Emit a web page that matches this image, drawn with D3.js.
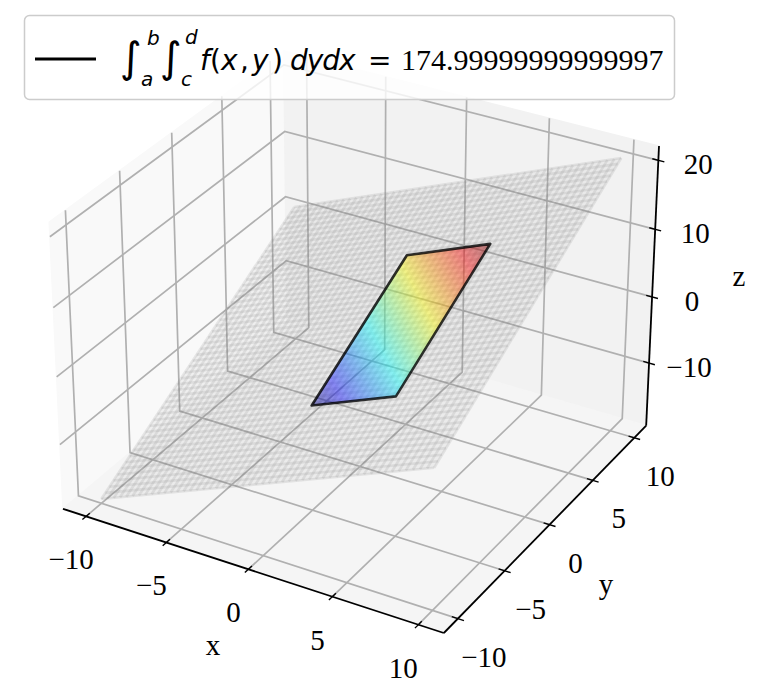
<!DOCTYPE html>
<html>
<head>
<meta charset="utf-8">
<script src="https://cdn.jsdelivr.net/npm/d3@7"></script>
<style>
  html, body { margin: 0; padding: 0; background: #fff; }
  text { font-family: "Liberation Serif", serif; font-size: 29px; fill: #000; }
  .math { font-family: "DejaVu Sans", sans-serif; }
</style>
</head>
<body>
<svg id="chart" width="768" height="697"></svg>
<script>
const xTicks = [-10, -5, 0, 5, 10];
const yTicks = [-10, -5, 0, 5, 10];
const zTicks = [-10, 0, 10, 20];
const xLim = [-11.46, 11.46];
const yLim = [-11.46, 11.46];
const zLim = [-19.65, 22.05];
const surfaceX = [-10, 10];
const surfaceY = [-10, 10];
// z at (x0,y0) (x1,y0) (x0,y1) (x1,y1)
const surfaceZ = [-19, 1, 1, 21];
const regionX = [0, 5];
const regionY = [-5, 5];
const meshCells = 50;
const jetColors = ["#00007f", "#0000ff", "#007fff", "#00ffff", "#7fff7f", "#ffff00", "#ff7f00", "#ff0000", "#7f0000"];
const integralValue = "174.99999999999997";

var svg = d3.select("#chart");

// camera, same numbers as a default mplot3d view
var elev = 30 * Math.PI / 180, azim = -60 * Math.PI / 180, dist = 10;
var aspect = [4, 4, 3];
var norm = Math.hypot(aspect[0], aspect[1], aspect[2]);
var box = aspect.map(a => a * 1.8294640721620434 * 25 / 24 / norm);
var wx = d3.scaleLinear().domain(xLim).range([0, box[0]]);
var wy = d3.scaleLinear().domain(yLim).range([0, box[1]]);
var wz = d3.scaleLinear().domain(zLim).range([0, box[2]]);
var w = [Math.cos(elev) * Math.cos(azim), Math.cos(elev) * Math.sin(azim), Math.sin(elev)];
var eye = [box[0] / 2 + dist * w[0], box[1] / 2 + dist * w[1], box[2] / 2 + dist * w[2]];
var u = [-w[1], w[0], 0];
var ul = Math.hypot(u[0], u[1]);
u = [u[0] / ul, u[1] / ul, 0];
var v = [w[1] * u[2] - w[2] * u[1], w[2] * u[0] - w[0] * u[2], w[0] * u[1] - w[1] * u[0]];

function camera(x, y, z) {
  var d = [wx(x) - eye[0], wy(y) - eye[1], wz(z) - eye[2]];
  var zv = d3.sum(d, (c, i) => c * w[i]);
  return [d3.sum(d, (c, i) => c * u[i]) / -zv, d3.sum(d, (c, i) => c * v[i]) / -zv];
}

// screen scales pinned on the box corners
var cLeft = camera(xLim[0], yLim[0], zLim[0]);
var cFront = camera(xLim[1], yLim[0], zLim[0]);
var cTop = camera(xLim[1], yLim[1], zLim[1]);
var sx = d3.scaleLinear().domain([cLeft[0], cTop[0]]).range([63, 659]);
var sy = d3.scaleLinear().domain([cFront[1], cTop[1]]).range([633, 146]);

function project(x, y, z) {
  var c = camera(x, y, z);
  return [sx(c[0]), sy(c[1])];
}
var line = d3.line();
function poly3(pts) {
  return line(pts.map(p => project(p[0], p[1], p[2]))) + "Z";
}
function path3(pts) {
  return line(pts.map(p => project(p[0], p[1], p[2])));
}

// the plane through the four corners
var zx0 = d3.scaleLinear().domain(surfaceY).range([surfaceZ[0], surfaceZ[2]]);
var zx1 = d3.scaleLinear().domain(surfaceY).range([surfaceZ[1], surfaceZ[3]]);
function planeZ(x, y) {
  return d3.scaleLinear().domain(surfaceX).range([zx0(y), zx1(y)])(x);
}

// panes
var x0 = xLim[0], x1 = xLim[1], y0 = yLim[0], y1 = yLim[1], z0 = zLim[0], z1 = zLim[1];
var panes = [
  {pts: [[x0, y0, z0], [x0, y1, z0], [x0, y1, z1], [x0, y0, z1]], fill: "#f9f9f9"},
  {pts: [[x0, y1, z0], [x1, y1, z0], [x1, y1, z1], [x0, y1, z1]], fill: "#f2f2f2"},
  {pts: [[x0, y0, z0], [x1, y0, z0], [x1, y1, z0], [x0, y1, z0]], fill: "#f5f5f5"}
];
svg.append("g").selectAll("path")
  .data(panes)
  .enter()
  .append("path")
  .attr("d", d => poly3(d.pts))
  .attr("fill", d => d.fill)
  .attr("stroke", d => d.fill)
  .attr("stroke-width", 1.5);

// gridlines
var gridPaths = [];
xTicks.forEach(t => gridPaths.push([[t, y0, z0], [t, y1, z0], [t, y1, z1]]));
yTicks.forEach(t => gridPaths.push([[x1, t, z0], [x0, t, z0], [x0, t, z1]]));
zTicks.forEach(t => gridPaths.push([[x1, y1, t], [x0, y1, t], [x0, y0, t]]));
svg.append("g").selectAll("path")
  .data(gridPaths)
  .enter()
  .append("path")
  .attr("d", path3)
  .attr("fill", "none")
  .attr("stroke", "#b0b0b0")
  .attr("stroke-width", 1.7);

// grey surface, mesh on top makes the dotted look
var sp = [surfaceX[0], surfaceX[1]];
var sq = [surfaceY[0], surfaceY[1]];
var surface = svg.append("g");
surface.append("path")
  .attr("d", poly3([
    [sp[0], sq[0], planeZ(sp[0], sq[0])],
    [sp[1], sq[0], planeZ(sp[1], sq[0])],
    [sp[1], sq[1], planeZ(sp[1], sq[1])],
    [sp[0], sq[1], planeZ(sp[0], sq[1])]
  ]))
  .attr("fill", "#808080")
  .attr("fill-opacity", 0.08);
var meshX = d3.scaleLinear().domain([0, meshCells]).range(surfaceX);
var meshY = d3.scaleLinear().domain([0, meshCells]).range(surfaceY);
var meshLines = [];
d3.range(meshCells + 1).forEach(function(i) {
  var mx = meshX(i), my = meshY(i);
  meshLines.push([[mx, sq[0], planeZ(mx, sq[0])], [mx, sq[1], planeZ(mx, sq[1])]]);
  meshLines.push([[sp[0], my, planeZ(sp[0], my)], [sp[1], my, planeZ(sp[1], my)]]);
});
surface.selectAll(".mesh")
  .data(meshLines)
  .enter()
  .append("path")
  .attr("class", "mesh")
  .attr("d", path3)
  .attr("stroke", "#808080")
  .attr("stroke-opacity", 0.16)
  .attr("stroke-width", 2.6);

// coloured region, gradient runs across the lines of equal z
var rc = [
  [regionX[0], regionY[0]],
  [regionX[1], regionY[0]],
  [regionX[1], regionY[1]],
  [regionX[0], regionY[1]]
].map(p => [p[0], p[1], planeZ(p[0], p[1])]);
var low = project(rc[0][0], rc[0][1], rc[0][2]);
var high = project(rc[2][0], rc[2][1], rc[2][2]);
var isoA = project(-5, 5, planeZ(-5, 5));
var isoB = project(5, -5, planeZ(5, -5));
var iso = [isoB[0] - isoA[0], isoB[1] - isoA[1]];
var il = Math.hypot(iso[0], iso[1]);
var nrm = [-iso[1] / il, iso[0] / il];
var reach = (high[0] - low[0]) * nrm[0] + (high[1] - low[1]) * nrm[1];

var grad = svg.append("defs").append("linearGradient")
  .attr("id", "jet")
  .attr("gradientUnits", "userSpaceOnUse")
  .attr("x1", low[0]).attr("y1", low[1])
  .attr("x2", low[0] + nrm[0] * reach).attr("y2", low[1] + nrm[1] * reach);
grad.selectAll("stop")
  .data(jetColors)
  .enter()
  .append("stop")
  .attr("offset", (d, i) => i / (jetColors.length - 1))
  .attr("stop-color", d => d);

svg.append("path")
  .attr("d", poly3(rc))
  .attr("fill", "url(#jet)")
  .attr("fill-opacity", 0.42);
svg.append("path")
  .attr("d", poly3(rc))
  .attr("fill", "none")
  .attr("stroke", "#000")
  .attr("stroke-opacity", 0.8)
  .attr("stroke-width", 2.6)
  .attr("stroke-linejoin", "round");

// axis lines
var axisLines = [
  [[x0, y0, z0], [x1, y0, z0]],
  [[x1, y0, z0], [x1, y1, z0]],
  [[x1, y1, z0], [x1, y1, z1]]
];
svg.append("g").selectAll("path")
  .data(axisLines)
  .enter()
  .append("path")
  .attr("d", path3)
  .attr("fill", "none")
  .attr("stroke", "#000")
  .attr("stroke-width", 1.8);

// ticks
var tickSegs = [];
xTicks.forEach(t => tickSegs.push([[t, y0 - 0.35, z0], [t, y0 + 0.35, z0]]));
yTicks.forEach(t => tickSegs.push([[x1 - 0.35, t, z0], [x1 + 0.35, t, z0]]));
zTicks.forEach(t => tickSegs.push([[x1 - 0.35, y1, t], [x1 + 0.35, y1, t]]));
svg.append("g").selectAll("path")
  .data(tickSegs)
  .enter()
  .append("path")
  .attr("d", path3)
  .attr("stroke", "#000")
  .attr("stroke-width", 1.4);

function label(t) {
  return String(t).replace("-", "\u2212");
}
function tickLabels(data, pos, dx, dy) {
  svg.append("g").selectAll("text")
    .data(data)
    .enter()
    .append("text")
    .attr("text-anchor", "middle")
    .attr("x", d => pos(d)[0] + dx)
    .attr("y", d => pos(d)[1] + dy)
    .text(label);
}
tickLabels(xTicks, d => project(d, y0, z0), -15, 53);
tickLabels(yTicks, d => project(x1, d, z0), 26, 48);
tickLabels(zTicks, d => project(x1, y1, d), 40, 14);

svg.append("text").attr("x", 213).attr("y", 655).attr("text-anchor", "middle").text("x");
svg.append("text").attr("x", 606).attr("y", 594).attr("text-anchor", "middle").text("y");
svg.append("text").attr("x", 739).attr("y", 286).attr("text-anchor", "middle").text("z");

// legend
var legend = svg.append("g");
legend.append("rect")
  .attr("x", 24.5).attr("y", 15.5)
  .attr("width", 650).attr("height", 84)
  .attr("rx", 5)
  .attr("fill", "#fff").attr("fill-opacity", 0.8)
  .attr("stroke", "#ccc").attr("stroke-width", 1.5);
legend.append("line")
  .attr("x1", 35).attr("x2", 96)
  .attr("y1", 59).attr("y2", 59)
  .attr("stroke", "#000").attr("stroke-width", 2.8);

var mathParts = [
  {t: "\u222b", x: 120, y: 72, size: 42, style: "normal", gap: 0},
  {t: "a", x: 141, y: 86, size: 20, style: "italic", gap: 0},
  {t: "b", x: 147, y: 45, size: 20, style: "italic", gap: 0},
  {t: "\u222b", x: 160, y: 72, size: 42, style: "normal", gap: 0},
  {t: "c", x: 181, y: 86, size: 20, style: "italic", gap: 0},
  {t: "d", x: 185, y: 44, size: 20, style: "italic", gap: 0},
  {t: "f", x: 200, y: 70, size: 28, style: "italic", gap: 0},
  {t: "(", x: 210, y: 70, size: 28, style: "normal", gap: 0},
  {t: "x", x: 221, y: 70, size: 28, style: "italic", gap: 0},
  {t: ",", x: 240, y: 70, size: 28, style: "normal", gap: 0},
  {t: "y", x: 252, y: 70, size: 28, style: "italic", gap: 0},
  {t: ")", x: 272, y: 70, size: 28, style: "normal", gap: 0},
  {t: "dydx", x: 290, y: 70, size: 28, style: "italic", gap: -1},
  {t: "=", x: 368, y: 70, size: 28, style: "normal", gap: 0}
];
legend.selectAll(".math")
  .data(mathParts)
  .enter()
  .append("text")
  .attr("class", "math")
  .attr("x", d => d.x)
  .attr("y", d => d.y)
  .style("font-size", d => d.size + "px")
  .style("font-style", d => d.style)
  .style("letter-spacing", d => d.gap + "px")
  .text(d => d.t);
legend.append("text")
  .attr("x", 401).attr("y", 70)
  .style("font-size", "30px")
  .text(integralValue);
</script>
</body>
</html>
